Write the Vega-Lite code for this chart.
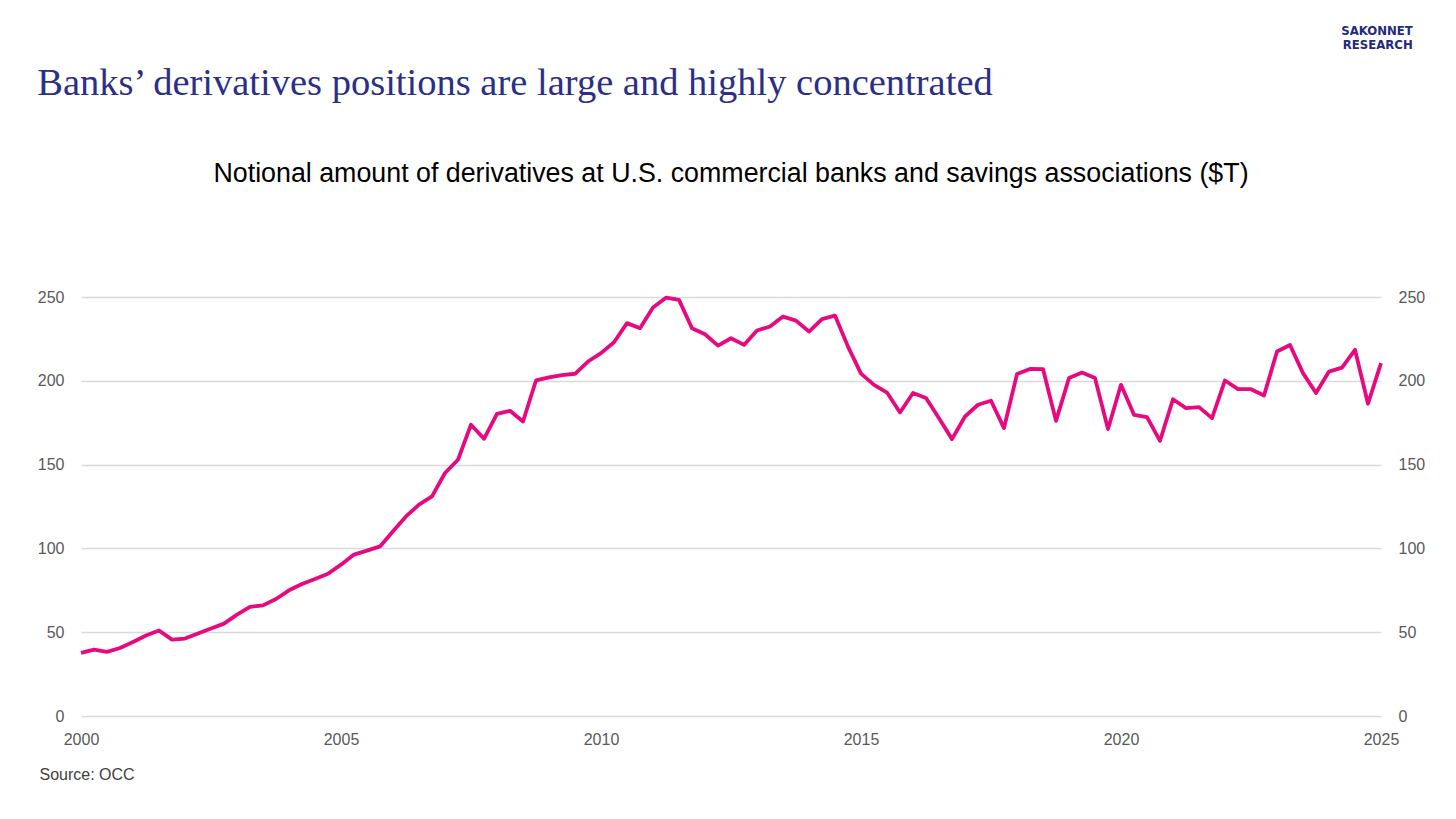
{
  "$schema": "https://vega.github.io/schema/vega-lite/v6.json",
  "background": "white",
  "padding": {"left": 37, "top": 25, "right": 0, "bottom": 0},
  "config": {"view": {"stroke": null}, "concat": {"spacing": 0}},
  "title": {"text": ["SAKONNET", "RESEARCH"], "anchor": "end", "frame": "bounds", "font": "Liberation Sans Narrow, DejaVu Sans Condensed, Liberation Sans", "fontSize": 13, "fontWeight": "bold", "color": "#232a7a", "lineHeight": 13.5, "dx": -12, "offset": 12},
  "vconcat": [
    {
      "title": {"text": "Banks’ derivatives positions are large and highly concentrated", "anchor": "start", "frame": "bounds", "font": "Liberation Serif", "fontSize": 38.5, "fontWeight": "normal", "color": "#2b2f87", "offset": 58},
      "vconcat": [
        {
          "title": {"text": "Notional amount of derivatives at U.S. commercial banks and savings associations ($T)", "anchor": "middle", "frame": "group", "font": "Liberation Sans", "fontSize": 26.8, "fontWeight": "normal", "color": "#000000", "offset": 101},
          "width": 1300,
          "height": 419,
          "data": {"values": [
            {"year": 2000, "notional": 37.7}, {"year": 2000.25, "notional": 39.6}, {"year": 2000.5, "notional": 38.3}, {"year": 2000.75, "notional": 40.6},
            {"year": 2001, "notional": 44.2}, {"year": 2001.25, "notional": 48.0}, {"year": 2001.5, "notional": 51.0}, {"year": 2001.75, "notional": 45.6},
            {"year": 2002, "notional": 46.2}, {"year": 2002.25, "notional": 49.2}, {"year": 2002.5, "notional": 52.2}, {"year": 2002.75, "notional": 55.1},
            {"year": 2003, "notional": 60.5}, {"year": 2003.25, "notional": 65.1}, {"year": 2003.5, "notional": 66.0}, {"year": 2003.75, "notional": 69.8},
            {"year": 2004, "notional": 75.0}, {"year": 2004.25, "notional": 78.8}, {"year": 2004.5, "notional": 81.8}, {"year": 2004.75, "notional": 84.9},
            {"year": 2005, "notional": 90.3}, {"year": 2005.25, "notional": 96.3}, {"year": 2005.5, "notional": 98.7}, {"year": 2005.75, "notional": 101.2},
            {"year": 2006, "notional": 110.2}, {"year": 2006.25, "notional": 119.1}, {"year": 2006.5, "notional": 126.1}, {"year": 2006.75, "notional": 131.0},
            {"year": 2007, "notional": 145.0}, {"year": 2007.25, "notional": 152.9}, {"year": 2007.5, "notional": 173.8}, {"year": 2007.75, "notional": 165.4},
            {"year": 2008, "notional": 180.3}, {"year": 2008.25, "notional": 182.1}, {"year": 2008.5, "notional": 175.7}, {"year": 2008.75, "notional": 200.2},
            {"year": 2009, "notional": 202.0}, {"year": 2009.25, "notional": 203.4}, {"year": 2009.5, "notional": 204.2}, {"year": 2009.75, "notional": 211.5},
            {"year": 2010, "notional": 216.5}, {"year": 2010.25, "notional": 223.0}, {"year": 2010.5, "notional": 234.4}, {"year": 2010.75, "notional": 231.4},
            {"year": 2011, "notional": 243.7}, {"year": 2011.25, "notional": 249.6}, {"year": 2011.5, "notional": 248.3}, {"year": 2011.75, "notional": 231.4},
            {"year": 2012, "notional": 227.8}, {"year": 2012.25, "notional": 221.0}, {"year": 2012.5, "notional": 225.4}, {"year": 2012.75, "notional": 221.4},
            {"year": 2013, "notional": 230.0}, {"year": 2013.25, "notional": 232.4}, {"year": 2013.5, "notional": 238.3}, {"year": 2013.75, "notional": 235.9},
            {"year": 2014, "notional": 229.4}, {"year": 2014.25, "notional": 236.8}, {"year": 2014.5, "notional": 238.9}, {"year": 2014.75, "notional": 220.4},
            {"year": 2015, "notional": 204.3}, {"year": 2015.25, "notional": 197.6}, {"year": 2015.5, "notional": 193.0}, {"year": 2015.75, "notional": 181.1},
            {"year": 2016, "notional": 192.7}, {"year": 2016.25, "notional": 189.7}, {"year": 2016.5, "notional": 177.7}, {"year": 2016.75, "notional": 165.2},
            {"year": 2017, "notional": 178.7}, {"year": 2017.25, "notional": 185.7}, {"year": 2017.5, "notional": 188.1}, {"year": 2017.75, "notional": 171.8},
            {"year": 2018, "notional": 204.0}, {"year": 2018.25, "notional": 207.1}, {"year": 2018.5, "notional": 207.0}, {"year": 2018.75, "notional": 176.1},
            {"year": 2019, "notional": 201.6}, {"year": 2019.25, "notional": 204.9}, {"year": 2019.5, "notional": 201.6}, {"year": 2019.75, "notional": 171.2},
            {"year": 2020, "notional": 197.6}, {"year": 2020.25, "notional": 179.7}, {"year": 2020.5, "notional": 178.3}, {"year": 2020.75, "notional": 164.2},
            {"year": 2021, "notional": 189.0}, {"year": 2021.25, "notional": 183.7}, {"year": 2021.5, "notional": 184.3}, {"year": 2021.75, "notional": 177.7},
            {"year": 2022, "notional": 200.2}, {"year": 2022.25, "notional": 195.0}, {"year": 2022.5, "notional": 195.0}, {"year": 2022.75, "notional": 191.2},
            {"year": 2023, "notional": 217.5}, {"year": 2023.25, "notional": 221.4}, {"year": 2023.5, "notional": 204.6}, {"year": 2023.75, "notional": 192.7},
            {"year": 2024, "notional": 205.5}, {"year": 2024.25, "notional": 207.9}, {"year": 2024.5, "notional": 218.5}, {"year": 2024.75, "notional": 186.3},
            {"year": 2025, "notional": 210.5}
          ]},
          "encoding": {
            "x": {"field": "year", "type": "quantitative", "scale": {"domain": [2000, 2025], "nice": false, "zero": false},
              "axis": {"values": [2000, 2005, 2010, 2015, 2020, 2025], "format": "d", "grid": false, "domain": false, "ticks": false, "labelPadding": 15, "labelFlush": false, "labelFont": "Liberation Sans", "labelFontSize": 16, "labelColor": "#595959",
                "title": "Source: OCC", "titleAnchor": "start", "titleAlign": "left", "titleX": -42, "titleY": 63, "titleBaseline": "alphabetic", "titleFont": "Liberation Sans", "titleFontSize": 16, "titleFontWeight": "normal", "titleColor": "#404040"}}
          },
          "layer": [
            {
              "mark": {"type": "line", "color": "#e6097f", "strokeWidth": 3.8, "strokeJoin": "round"},
              "encoding": {
                "y": {"field": "notional", "type": "quantitative", "scale": {"domain": [0, 250], "nice": false},
                  "axis": {"orient": "left", "values": [0, 50, 100, 150, 200, 250], "grid": true, "gridColor": "#d9d9d9", "gridWidth": 1.5, "domain": false, "ticks": false, "labelPadding": 17, "labelFont": "Liberation Sans", "labelFontSize": 16, "labelColor": "#595959", "title": null}}
              }
            },
            {
              "mark": {"type": "line", "strokeOpacity": 0},
              "encoding": {
                "y": {"field": "notional", "type": "quantitative", "scale": {"domain": [0, 250], "nice": false},
                  "axis": {"orient": "right", "values": [0, 50, 100, 150, 200, 250], "grid": false, "domain": false, "ticks": false, "labelPadding": 17, "labelFont": "Liberation Sans", "labelFontSize": 16, "labelColor": "#595959", "title": null}}
              }
            }
          ],
          "resolve": {"scale": {"y": "independent"}}
        }
      ]
    }
  ]
}
